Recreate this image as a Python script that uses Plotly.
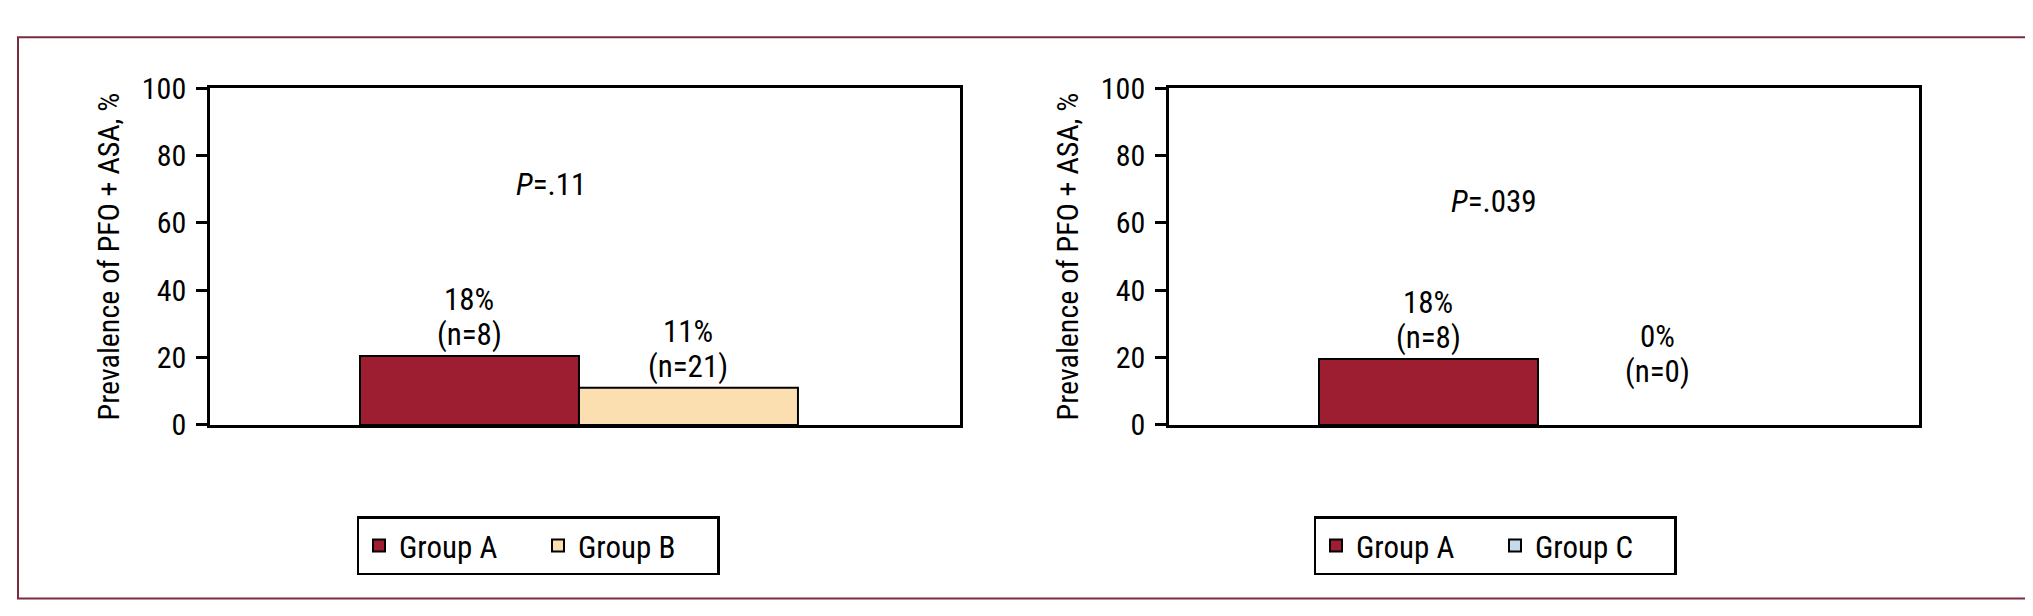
import plotly.graph_objects as go

# ---- data ----
groups_left = ['Group A', 'Group B']
values_left = [20.5, 11.0]
pct_left = ['18%', '11%']
n_left = [8, 21]
p_left = '.11'

groups_right = ['Group A', 'Group C']
values_right = [19.6, 0.0]
pct_right = ['18%', '0%']
n_right = [8, 0]
p_right = '.039'

colors = {'Group A': '#9d1d31', 'Group B': '#fbdfb1', 'Group C': '#c6daee'}

FONT = 'Roboto Condensed, Open Sans, sans-serif'
W, H = 2033, 616


def px_x(p):
    return p / W


def px_y(p):
    return 1 - p / H


fig = go.Figure()

panels = [
    ('x', 'y', 'legend', groups_left, values_left, pct_left, n_left, p_left, (1.37, 71.4)),
    ('x2', 'y2', 'legend2', groups_right, values_right, pct_right, n_right, p_right, (1.30, 66.4)),
]

annotations = []
for xa, ya, leg, groups, vals, pcts, ns, pval, ppos in panels:
    for i, (g, v) in enumerate(zip(groups, vals)):
        # an empty bar keeps no outline (it would thicken the axis), so its
        # legend key comes from an empty legend-only trace instead
        fig.add_trace(go.Bar(
            x=[i + 1], y=[v], width=1, name=g,
            marker=dict(color=colors[g], line=dict(color='black', width=2 if v > 0 else 0)),
            xaxis=xa, yaxis=ya, legend=leg, showlegend=v > 0, hoverinfo='y',
        ))
        if v == 0:
            fig.add_trace(go.Bar(
                x=[None], y=[None], name=g,
                marker=dict(color=colors[g], line=dict(color='black', width=2)),
                xaxis=xa, yaxis=ya, legend=leg, showlegend=True, hoverinfo='skip',
            ))
        # label above the bar; the empty bar gets its label lifted off the axis
        ly = v if v > 0 else 9.5
        lab_font = dict(family=FONT, size=31, color='black')
        annotations.append(dict(x=i + 1, y=ly, xref=xa, yref=ya, text=f'(n={ns[i]})',
                                showarrow=False, yanchor='bottom', yshift=1,
                                xshift=0 if v > 0 else 10, font=lab_font))
        annotations.append(dict(x=i + 1, y=ly, xref=xa, yref=ya, text=pcts[i],
                                showarrow=False, yanchor='bottom', yshift=36,
                                xshift=0 if v > 0 else 10, font=lab_font))
    annotations.append(dict(
        x=ppos[0], y=ppos[1], xref=xa, yref=ya, text=f'<i>P</i>={pval}',
        showarrow=False, font=dict(family=FONT, size=31, color='black'),
    ))

axis_common = dict(showline=True, linecolor='black', linewidth=2.5, mirror=True,
                   showgrid=False, zeroline=False)

yaxis_common = dict(axis_common, range=[0, 100], tickvals=[0, 20, 40, 60, 80, 100],
                    ticks='outside', ticklen=11, tickwidth=2.5, tickcolor='black',
                    ticklabelstandoff=4,
                    tickfont=dict(family=FONT, size=30, color='black'),
                    title=dict(text='Prevalence of PFO + ASA, %', standoff=14,
                               font=dict(family=FONT, size=30, color='black')))

xaxis_common = dict(axis_common, range=[-0.185, 3.24], showticklabels=False, ticks='')

legend_common = dict(orientation='h', xanchor='center', yanchor='top',
                     bordercolor='black', borderwidth=2.5, bgcolor='white',
                     font=dict(family=FONT, size=31, color='black'),
                     entrywidth=134, itemclick=False)

fig.update_layout(
    width=W, height=H,
    margin=dict(l=0, r=0, t=0, b=0),
    paper_bgcolor='white', plot_bgcolor='white',
    barmode='overlay',
    xaxis=dict(xaxis_common, domain=[px_x(202), px_x(952)], anchor='y'),
    yaxis=dict(yaxis_common, domain=[px_y(424), px_y(67)], anchor='x'),
    xaxis2=dict(xaxis_common, domain=[px_x(1161), px_x(1911)], anchor='y2'),
    yaxis2=dict(yaxis_common, domain=[px_y(424), px_y(67)], anchor='x2'),
    legend=dict(legend_common, x=px_x(530), y=px_y(521)),
    legend2=dict(legend_common, x=px_x(1487), y=px_y(521)),
    annotations=annotations,
    shapes=[dict(type='rect', xref='paper', yref='paper',
                 x0=px_x(10), x1=px_x(2020), y0=px_y(608), y1=px_y(13),
                 line=dict(color='#7b2d3f', width=2))],
)

fig.write_html('out.html')
